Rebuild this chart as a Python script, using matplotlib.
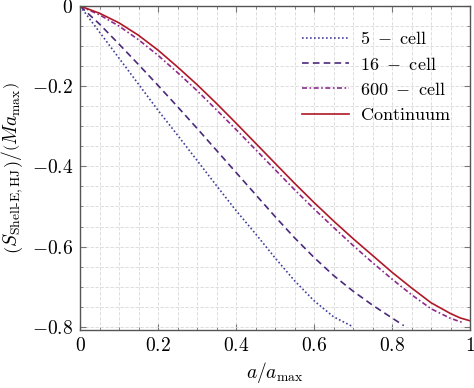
import numpy as np
import matplotlib
matplotlib.use("Agg")
import matplotlib.pyplot as plt
from matplotlib.ticker import MultipleLocator, FuncFormatter

plt.rcParams.update({
    'mathtext.fontset': 'cm',
    'font.family': 'serif',
    'font.serif': ['DejaVu Serif'],
    'axes.formatter.use_mathtext': True,
})

# curves
a_cont = [0, 0.05, 0.1, 0.15, 0.2, 0.25, 0.3, 0.35, 0.4, 0.45, 0.5,
          0.55, 0.6, 0.65, 0.7, 0.75, 0.8, 0.85, 0.9, 0.95, 0.975, 1.0]
s_cont = [0, -0.018, -0.042, -0.073, -0.11, -0.152, -0.196, -0.243, -0.292, -0.342, -0.392,
          -0.442, -0.49, -0.536, -0.58, -0.622, -0.664, -0.703, -0.740, -0.767, -0.778, -0.785]

a_600 = [0, 0.05, 0.1, 0.15, 0.2, 0.25, 0.3, 0.35, 0.4, 0.45, 0.5,
         0.55, 0.6, 0.65, 0.7, 0.75, 0.8, 0.85, 0.9, 0.95, 0.98]
s_600 = [0, -0.022, -0.05, -0.084, -0.123, -0.166, -0.211, -0.259, -0.308, -0.358, -0.408,
         -0.458, -0.506, -0.552, -0.597, -0.640, -0.681, -0.720, -0.755, -0.779, -0.789]

a_16 = [0, 0.05, 0.1, 0.15, 0.2, 0.25, 0.3, 0.35, 0.4, 0.45, 0.5,
        0.55, 0.6, 0.65, 0.7, 0.75, 0.8, 0.83]
s_16 = [0, -0.045, -0.095, -0.146, -0.198, -0.251, -0.305, -0.36, -0.415, -0.47, -0.525,
        -0.578, -0.627, -0.672, -0.711, -0.746, -0.778, -0.797]

a_5 = [0, 0.05, 0.1, 0.15, 0.2, 0.25, 0.3, 0.35, 0.4, 0.45, 0.5,
       0.55, 0.6, 0.65, 0.7]
s_5 = [0, -0.065, -0.13, -0.195, -0.26, -0.322, -0.385, -0.448, -0.51, -0.568, -0.628,
       -0.685, -0.735, -0.775, -0.80]

fig = plt.figure(figsize=(4.74, 3.88), dpi=100)
ax = fig.add_axes([0.1688, 0.1495, 0.8228, 0.835])

ax.plot(a_5, s_5, color='#3f3f9c', lw=1.2, ls=(0, (1, 1.4)), label=r'$5\ -\ \mathrm{cell}$')
ax.plot(a_16, s_16, color='#4b2a7a', lw=1.2, ls=(0, (4, 2.5)), label=r'$16\ -\ \mathrm{cell}$')
ax.plot(a_600, s_600, color='#8e2a8e', lw=1.2, ls=(0, (3, 1.5, 1, 1.5)), label=r'$600\ -\ \mathrm{cell}$')
ax.plot(a_cont, s_cont, color='#b01828', lw=1.2, label=r'$\mathrm{Continuum}$')

ax.set_xlim(0, 1)
ax.set_ylim(-0.808, 0)
ax.xaxis.set_major_locator(MultipleLocator(0.2))
ax.yaxis.set_major_locator(MultipleLocator(0.2))
ax.xaxis.set_minor_locator(MultipleLocator(0.05))
ax.yaxis.set_minor_locator(MultipleLocator(0.05))
fmt = FuncFormatter(lambda v, p: r'$%g$' % round(v, 3))
ax.xaxis.set_major_formatter(fmt)
ax.yaxis.set_major_formatter(fmt)

ax.grid(which='both', color='#d8d8d8', lw=0.6, ls=(0, (4, 2)))
ax.set_axisbelow(True)
ax.tick_params(which='both', direction='in', top=True, right=True, color='#777777')
ax.tick_params(which='major', length=4, labelsize=14, pad=5)
ax.tick_params(which='minor', length=2.5)
for sp in ax.spines.values():
    sp.set_color('#555555')
    sp.set_linewidth(1.0)

ax.set_xlabel(r'$a/a_{\max}$', fontsize=14, labelpad=4)
ax.set_ylabel(r'$\left(S_{\mathrm{Shell}\text{-}\mathrm{E,HJ}}\right)/\left(Ma_{\max}\right)$',
              fontsize=14, labelpad=4)

ax.legend(loc='upper left', bbox_to_anchor=(0.569, 0.925), frameon=False, fontsize=13,
          borderaxespad=0, borderpad=0, handlelength=2.6, handletextpad=0.6, labelspacing=0.4)

fig.savefig('out.png', dpi=100, facecolor='white')
